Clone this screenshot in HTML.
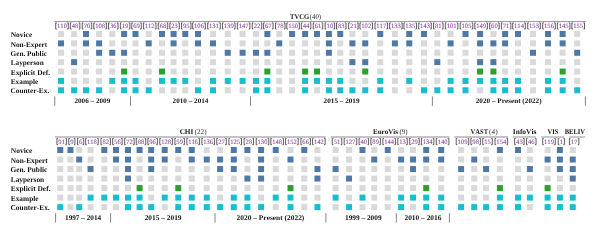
<!DOCTYPE html>
<html><head><meta charset="utf-8"><style>
html,body{margin:0;padding:0;background:#fff;width:600px;height:236px;overflow:hidden}
svg{display:block;will-change:transform}
text{font-family:"Liberation Serif",serif;text-rendering:geometricPrecision;font-kerning:none}
.rl,.tt,.yl{font-weight:700;fill:#141414}
.tc{font-weight:400;fill:#2a2a2a}
.ct{font-size:6.6px;fill:#8c44a4;stroke:#8c44a4;stroke-width:0.08}
.bk{fill:none;stroke:#2a2a2a;stroke-width:0.75}
.tl{stroke:#777;stroke-width:0.8}
.bl{stroke:#c4c4c4;stroke-width:1.8}
.tk{stroke:#666;stroke-width:0.8}
</style></head><body>
<svg width="600" height="236" viewBox="0 0 600 236">
<text x="10.76" y="37" class="rl" style="font-size:7.3px" textLength="21.43" lengthAdjust="spacingAndGlyphs">Novice</text>
<text x="10.76" y="47" class="rl" style="font-size:7.3px" textLength="36.47" lengthAdjust="spacingAndGlyphs">Non-Expert</text>
<text x="10.55" y="56" class="rl" style="font-size:7.3px" textLength="36.34" lengthAdjust="spacingAndGlyphs">Gen. Public</text>
<text x="10.78" y="65" class="rl" style="font-size:7.3px" textLength="32.98" lengthAdjust="spacingAndGlyphs">Layperson</text>
<text x="10.77" y="75" class="rl" style="font-size:7.3px" textLength="39.30" lengthAdjust="spacingAndGlyphs">Explicit Def.</text>
<text x="10.78" y="84" class="rl" style="font-size:7.3px" textLength="27.46" lengthAdjust="spacingAndGlyphs">Example</text>
<text x="10.54" y="93" class="rl" style="font-size:7.3px" textLength="38.68" lengthAdjust="spacingAndGlyphs">Counter-Ex.</text>
<path d="M56.85,22.90H55.70V29.00H56.85M67.15,22.90H68.30V29.00H67.15" class="bk"/>
<text x="62.00" y="28.00" class="ct" text-anchor="middle">110</text>
<rect x="58.00" y="31.00" width="6.0" height="6.0" fill="#d9d9d9"/>
<rect x="58.00" y="40.38" width="6.0" height="6.0" fill="#4e79a7"/>
<rect x="58.00" y="49.76" width="6.0" height="6.0" fill="#d9d9d9"/>
<rect x="58.00" y="59.14" width="6.0" height="6.0" fill="#d9d9d9"/>
<rect x="58.00" y="68.52" width="6.0" height="6.0" fill="#d9d9d9"/>
<rect x="58.00" y="77.90" width="6.0" height="6.0" fill="#17becf"/>
<rect x="58.00" y="87.28" width="6.0" height="6.0" fill="#17becf"/>
<path d="M71.50,22.90H70.35V29.00H71.50M78.70,22.90H79.85V29.00H78.70" class="bk"/>
<text x="75.10" y="28.00" class="ct" text-anchor="middle">48</text>
<rect x="71.10" y="31.00" width="6.0" height="6.0" fill="#d9d9d9"/>
<rect x="71.10" y="40.38" width="6.0" height="6.0" fill="#d9d9d9"/>
<rect x="71.10" y="49.76" width="6.0" height="6.0" fill="#d9d9d9"/>
<rect x="71.10" y="59.14" width="6.0" height="6.0" fill="#4e79a7"/>
<rect x="71.10" y="68.52" width="6.0" height="6.0" fill="#d9d9d9"/>
<rect x="71.10" y="77.90" width="6.0" height="6.0" fill="#d9d9d9"/>
<rect x="71.10" y="87.28" width="6.0" height="6.0" fill="#17becf"/>
<path d="M83.40,22.90H82.25V29.00H83.40M90.60,22.90H91.75V29.00H90.60" class="bk"/>
<text x="87.00" y="28.00" class="ct" text-anchor="middle">70</text>
<rect x="83.00" y="31.00" width="6.0" height="6.0" fill="#4e79a7"/>
<rect x="83.00" y="40.38" width="6.0" height="6.0" fill="#4e79a7"/>
<rect x="83.00" y="49.76" width="6.0" height="6.0" fill="#d9d9d9"/>
<rect x="83.00" y="59.14" width="6.0" height="6.0" fill="#d9d9d9"/>
<rect x="83.00" y="68.52" width="6.0" height="6.0" fill="#d9d9d9"/>
<rect x="83.00" y="77.90" width="6.0" height="6.0" fill="#d9d9d9"/>
<rect x="83.00" y="87.28" width="6.0" height="6.0" fill="#17becf"/>
<path d="M94.95,22.90H93.80V29.00H94.95M105.25,22.90H106.40V29.00H105.25" class="bk"/>
<text x="100.10" y="28.00" class="ct" text-anchor="middle">108</text>
<rect x="96.10" y="31.00" width="6.0" height="6.0" fill="#d9d9d9"/>
<rect x="96.10" y="40.38" width="6.0" height="6.0" fill="#4e79a7"/>
<rect x="96.10" y="49.76" width="6.0" height="6.0" fill="#4e79a7"/>
<rect x="96.10" y="59.14" width="6.0" height="6.0" fill="#d9d9d9"/>
<rect x="96.10" y="68.52" width="6.0" height="6.0" fill="#d9d9d9"/>
<rect x="96.10" y="77.90" width="6.0" height="6.0" fill="#d9d9d9"/>
<rect x="96.10" y="87.28" width="6.0" height="6.0" fill="#17becf"/>
<path d="M109.65,22.90H108.50V29.00H109.65M116.85,22.90H118.00V29.00H116.85" class="bk"/>
<text x="113.25" y="28.00" class="ct" text-anchor="middle">36</text>
<rect x="109.25" y="31.00" width="6.0" height="6.0" fill="#d9d9d9"/>
<rect x="109.25" y="40.38" width="6.0" height="6.0" fill="#d9d9d9"/>
<rect x="109.25" y="49.76" width="6.0" height="6.0" fill="#4e79a7"/>
<rect x="109.25" y="59.14" width="6.0" height="6.0" fill="#d9d9d9"/>
<rect x="109.25" y="68.52" width="6.0" height="6.0" fill="#d9d9d9"/>
<rect x="109.25" y="77.90" width="6.0" height="6.0" fill="#17becf"/>
<rect x="109.25" y="87.28" width="6.0" height="6.0" fill="#d9d9d9"/>
<path d="M121.50,22.90H120.35V29.00H121.50M128.70,22.90H129.85V29.00H128.70" class="bk"/>
<text x="125.10" y="28.00" class="ct" text-anchor="middle">19</text>
<rect x="121.10" y="31.00" width="6.0" height="6.0" fill="#4e79a7"/>
<rect x="121.10" y="40.38" width="6.0" height="6.0" fill="#d9d9d9"/>
<rect x="121.10" y="49.76" width="6.0" height="6.0" fill="#4e79a7"/>
<rect x="121.10" y="59.14" width="6.0" height="6.0" fill="#d9d9d9"/>
<rect x="121.10" y="68.52" width="6.0" height="6.0" fill="#2ca02c"/>
<rect x="121.10" y="77.90" width="6.0" height="6.0" fill="#17becf"/>
<rect x="121.10" y="87.28" width="6.0" height="6.0" fill="#17becf"/>
<path d="M132.90,22.90H131.75V29.00H132.90M140.10,22.90H141.25V29.00H140.10" class="bk"/>
<text x="136.50" y="28.00" class="ct" text-anchor="middle">69</text>
<rect x="132.50" y="31.00" width="6.0" height="6.0" fill="#4e79a7"/>
<rect x="132.50" y="40.38" width="6.0" height="6.0" fill="#d9d9d9"/>
<rect x="132.50" y="49.76" width="6.0" height="6.0" fill="#d9d9d9"/>
<rect x="132.50" y="59.14" width="6.0" height="6.0" fill="#d9d9d9"/>
<rect x="132.50" y="68.52" width="6.0" height="6.0" fill="#d9d9d9"/>
<rect x="132.50" y="77.90" width="6.0" height="6.0" fill="#17becf"/>
<rect x="132.50" y="87.28" width="6.0" height="6.0" fill="#17becf"/>
<path d="M144.55,22.90H143.40V29.00H144.55M154.85,22.90H156.00V29.00H154.85" class="bk"/>
<text x="149.70" y="28.00" class="ct" text-anchor="middle">112</text>
<rect x="145.70" y="31.00" width="6.0" height="6.0" fill="#d9d9d9"/>
<rect x="145.70" y="40.38" width="6.0" height="6.0" fill="#4e79a7"/>
<rect x="145.70" y="49.76" width="6.0" height="6.0" fill="#d9d9d9"/>
<rect x="145.70" y="59.14" width="6.0" height="6.0" fill="#d9d9d9"/>
<rect x="145.70" y="68.52" width="6.0" height="6.0" fill="#d9d9d9"/>
<rect x="145.70" y="77.90" width="6.0" height="6.0" fill="#d9d9d9"/>
<rect x="145.70" y="87.28" width="6.0" height="6.0" fill="#17becf"/>
<path d="M159.40,22.90H158.25V29.00H159.40M166.60,22.90H167.75V29.00H166.60" class="bk"/>
<text x="163.00" y="28.00" class="ct" text-anchor="middle">68</text>
<rect x="159.00" y="31.00" width="6.0" height="6.0" fill="#4e79a7"/>
<rect x="159.00" y="40.38" width="6.0" height="6.0" fill="#d9d9d9"/>
<rect x="159.00" y="49.76" width="6.0" height="6.0" fill="#d9d9d9"/>
<rect x="159.00" y="59.14" width="6.0" height="6.0" fill="#d9d9d9"/>
<rect x="159.00" y="68.52" width="6.0" height="6.0" fill="#2ca02c"/>
<rect x="159.00" y="77.90" width="6.0" height="6.0" fill="#17becf"/>
<rect x="159.00" y="87.28" width="6.0" height="6.0" fill="#d9d9d9"/>
<path d="M171.00,22.90H169.85V29.00H171.00M178.20,22.90H179.35V29.00H178.20" class="bk"/>
<text x="174.60" y="28.00" class="ct" text-anchor="middle">23</text>
<rect x="170.60" y="31.00" width="6.0" height="6.0" fill="#4e79a7"/>
<rect x="170.60" y="40.38" width="6.0" height="6.0" fill="#4e79a7"/>
<rect x="170.60" y="49.76" width="6.0" height="6.0" fill="#d9d9d9"/>
<rect x="170.60" y="59.14" width="6.0" height="6.0" fill="#d9d9d9"/>
<rect x="170.60" y="68.52" width="6.0" height="6.0" fill="#d9d9d9"/>
<rect x="170.60" y="77.90" width="6.0" height="6.0" fill="#17becf"/>
<rect x="170.60" y="87.28" width="6.0" height="6.0" fill="#d9d9d9"/>
<path d="M182.65,22.90H181.50V29.00H182.65M189.85,22.90H191.00V29.00H189.85" class="bk"/>
<text x="186.25" y="28.00" class="ct" text-anchor="middle">95</text>
<rect x="182.25" y="31.00" width="6.0" height="6.0" fill="#4e79a7"/>
<rect x="182.25" y="40.38" width="6.0" height="6.0" fill="#d9d9d9"/>
<rect x="182.25" y="49.76" width="6.0" height="6.0" fill="#d9d9d9"/>
<rect x="182.25" y="59.14" width="6.0" height="6.0" fill="#d9d9d9"/>
<rect x="182.25" y="68.52" width="6.0" height="6.0" fill="#d9d9d9"/>
<rect x="182.25" y="77.90" width="6.0" height="6.0" fill="#17becf"/>
<rect x="182.25" y="87.28" width="6.0" height="6.0" fill="#d9d9d9"/>
<path d="M193.85,22.90H192.70V29.00H193.85M204.15,22.90H205.30V29.00H204.15" class="bk"/>
<text x="199.00" y="28.00" class="ct" text-anchor="middle">106</text>
<rect x="195.00" y="31.00" width="6.0" height="6.0" fill="#4e79a7"/>
<rect x="195.00" y="40.38" width="6.0" height="6.0" fill="#4e79a7"/>
<rect x="195.00" y="49.76" width="6.0" height="6.0" fill="#d9d9d9"/>
<rect x="195.00" y="59.14" width="6.0" height="6.0" fill="#d9d9d9"/>
<rect x="195.00" y="68.52" width="6.0" height="6.0" fill="#d9d9d9"/>
<rect x="195.00" y="77.90" width="6.0" height="6.0" fill="#d9d9d9"/>
<rect x="195.00" y="87.28" width="6.0" height="6.0" fill="#17becf"/>
<path d="M208.85,22.90H207.70V29.00H208.85M219.15,22.90H220.30V29.00H219.15" class="bk"/>
<text x="214.00" y="28.00" class="ct" text-anchor="middle">131</text>
<rect x="210.00" y="31.00" width="6.0" height="6.0" fill="#d9d9d9"/>
<rect x="210.00" y="40.38" width="6.0" height="6.0" fill="#4e79a7"/>
<rect x="210.00" y="49.76" width="6.0" height="6.0" fill="#d9d9d9"/>
<rect x="210.00" y="59.14" width="6.0" height="6.0" fill="#d9d9d9"/>
<rect x="210.00" y="68.52" width="6.0" height="6.0" fill="#d9d9d9"/>
<rect x="210.00" y="77.90" width="6.0" height="6.0" fill="#17becf"/>
<rect x="210.00" y="87.28" width="6.0" height="6.0" fill="#17becf"/>
<path d="M223.60,22.90H222.45V29.00H223.60M233.90,22.90H235.05V29.00H233.90" class="bk"/>
<text x="228.75" y="28.00" class="ct" text-anchor="middle">139</text>
<rect x="224.75" y="31.00" width="6.0" height="6.0" fill="#d9d9d9"/>
<rect x="224.75" y="40.38" width="6.0" height="6.0" fill="#d9d9d9"/>
<rect x="224.75" y="49.76" width="6.0" height="6.0" fill="#4e79a7"/>
<rect x="224.75" y="59.14" width="6.0" height="6.0" fill="#d9d9d9"/>
<rect x="224.75" y="68.52" width="6.0" height="6.0" fill="#d9d9d9"/>
<rect x="224.75" y="77.90" width="6.0" height="6.0" fill="#17becf"/>
<rect x="224.75" y="87.28" width="6.0" height="6.0" fill="#d9d9d9"/>
<path d="M238.45,22.90H237.30V29.00H238.45M248.75,22.90H249.90V29.00H248.75" class="bk"/>
<text x="243.60" y="28.00" class="ct" text-anchor="middle">147</text>
<rect x="239.60" y="31.00" width="6.0" height="6.0" fill="#d9d9d9"/>
<rect x="239.60" y="40.38" width="6.0" height="6.0" fill="#d9d9d9"/>
<rect x="239.60" y="49.76" width="6.0" height="6.0" fill="#4e79a7"/>
<rect x="239.60" y="59.14" width="6.0" height="6.0" fill="#d9d9d9"/>
<rect x="239.60" y="68.52" width="6.0" height="6.0" fill="#d9d9d9"/>
<rect x="239.60" y="77.90" width="6.0" height="6.0" fill="#17becf"/>
<rect x="239.60" y="87.28" width="6.0" height="6.0" fill="#d9d9d9"/>
<path d="M253.40,22.90H252.25V29.00H253.40M260.60,22.90H261.75V29.00H260.60" class="bk"/>
<text x="257.00" y="28.00" class="ct" text-anchor="middle">22</text>
<rect x="253.00" y="31.00" width="6.0" height="6.0" fill="#d9d9d9"/>
<rect x="253.00" y="40.38" width="6.0" height="6.0" fill="#d9d9d9"/>
<rect x="253.00" y="49.76" width="6.0" height="6.0" fill="#4e79a7"/>
<rect x="253.00" y="59.14" width="6.0" height="6.0" fill="#d9d9d9"/>
<rect x="253.00" y="68.52" width="6.0" height="6.0" fill="#d9d9d9"/>
<rect x="253.00" y="77.90" width="6.0" height="6.0" fill="#17becf"/>
<rect x="253.00" y="87.28" width="6.0" height="6.0" fill="#17becf"/>
<path d="M264.75,22.90H263.60V29.00H264.75M271.95,22.90H273.10V29.00H271.95" class="bk"/>
<text x="268.35" y="28.00" class="ct" text-anchor="middle">67</text>
<rect x="264.35" y="31.00" width="6.0" height="6.0" fill="#4e79a7"/>
<rect x="264.35" y="40.38" width="6.0" height="6.0" fill="#d9d9d9"/>
<rect x="264.35" y="49.76" width="6.0" height="6.0" fill="#4e79a7"/>
<rect x="264.35" y="59.14" width="6.0" height="6.0" fill="#d9d9d9"/>
<rect x="264.35" y="68.52" width="6.0" height="6.0" fill="#2ca02c"/>
<rect x="264.35" y="77.90" width="6.0" height="6.0" fill="#17becf"/>
<rect x="264.35" y="87.28" width="6.0" height="6.0" fill="#17becf"/>
<path d="M276.65,22.90H275.50V29.00H276.65M283.85,22.90H285.00V29.00H283.85" class="bk"/>
<text x="280.25" y="28.00" class="ct" text-anchor="middle">78</text>
<rect x="276.25" y="31.00" width="6.0" height="6.0" fill="#d9d9d9"/>
<rect x="276.25" y="40.38" width="6.0" height="6.0" fill="#4e79a7"/>
<rect x="276.25" y="49.76" width="6.0" height="6.0" fill="#d9d9d9"/>
<rect x="276.25" y="59.14" width="6.0" height="6.0" fill="#d9d9d9"/>
<rect x="276.25" y="68.52" width="6.0" height="6.0" fill="#d9d9d9"/>
<rect x="276.25" y="77.90" width="6.0" height="6.0" fill="#d9d9d9"/>
<rect x="276.25" y="87.28" width="6.0" height="6.0" fill="#d9d9d9"/>
<path d="M287.95,22.90H286.80V29.00H287.95M298.25,22.90H299.40V29.00H298.25" class="bk"/>
<text x="293.10" y="28.00" class="ct" text-anchor="middle">150</text>
<rect x="289.10" y="31.00" width="6.0" height="6.0" fill="#4e79a7"/>
<rect x="289.10" y="40.38" width="6.0" height="6.0" fill="#d9d9d9"/>
<rect x="289.10" y="49.76" width="6.0" height="6.0" fill="#d9d9d9"/>
<rect x="289.10" y="59.14" width="6.0" height="6.0" fill="#d9d9d9"/>
<rect x="289.10" y="68.52" width="6.0" height="6.0" fill="#d9d9d9"/>
<rect x="289.10" y="77.90" width="6.0" height="6.0" fill="#d9d9d9"/>
<rect x="289.10" y="87.28" width="6.0" height="6.0" fill="#d9d9d9"/>
<path d="M302.50,22.90H301.35V29.00H302.50M309.70,22.90H310.85V29.00H309.70" class="bk"/>
<text x="306.10" y="28.00" class="ct" text-anchor="middle">44</text>
<rect x="302.10" y="31.00" width="6.0" height="6.0" fill="#4e79a7"/>
<rect x="302.10" y="40.38" width="6.0" height="6.0" fill="#d9d9d9"/>
<rect x="302.10" y="49.76" width="6.0" height="6.0" fill="#d9d9d9"/>
<rect x="302.10" y="59.14" width="6.0" height="6.0" fill="#d9d9d9"/>
<rect x="302.10" y="68.52" width="6.0" height="6.0" fill="#2ca02c"/>
<rect x="302.10" y="77.90" width="6.0" height="6.0" fill="#17becf"/>
<rect x="302.10" y="87.28" width="6.0" height="6.0" fill="#17becf"/>
<path d="M314.40,22.90H313.25V29.00H314.40M321.60,22.90H322.75V29.00H321.60" class="bk"/>
<text x="318.00" y="28.00" class="ct" text-anchor="middle">61</text>
<rect x="314.00" y="31.00" width="6.0" height="6.0" fill="#4e79a7"/>
<rect x="314.00" y="40.38" width="6.0" height="6.0" fill="#d9d9d9"/>
<rect x="314.00" y="49.76" width="6.0" height="6.0" fill="#d9d9d9"/>
<rect x="314.00" y="59.14" width="6.0" height="6.0" fill="#d9d9d9"/>
<rect x="314.00" y="68.52" width="6.0" height="6.0" fill="#2ca02c"/>
<rect x="314.00" y="77.90" width="6.0" height="6.0" fill="#17becf"/>
<rect x="314.00" y="87.28" width="6.0" height="6.0" fill="#d9d9d9"/>
<path d="M326.30,22.90H325.15V29.00H326.30M333.50,22.90H334.65V29.00H333.50" class="bk"/>
<text x="329.90" y="28.00" class="ct" text-anchor="middle">10</text>
<rect x="325.90" y="31.00" width="6.0" height="6.0" fill="#4e79a7"/>
<rect x="325.90" y="40.38" width="6.0" height="6.0" fill="#4e79a7"/>
<rect x="325.90" y="49.76" width="6.0" height="6.0" fill="#4e79a7"/>
<rect x="325.90" y="59.14" width="6.0" height="6.0" fill="#d9d9d9"/>
<rect x="325.90" y="68.52" width="6.0" height="6.0" fill="#d9d9d9"/>
<rect x="325.90" y="77.90" width="6.0" height="6.0" fill="#17becf"/>
<rect x="325.90" y="87.28" width="6.0" height="6.0" fill="#17becf"/>
<path d="M337.65,22.90H336.50V29.00H337.65M344.85,22.90H346.00V29.00H344.85" class="bk"/>
<text x="341.25" y="28.00" class="ct" text-anchor="middle">83</text>
<rect x="337.25" y="31.00" width="6.0" height="6.0" fill="#4e79a7"/>
<rect x="337.25" y="40.38" width="6.0" height="6.0" fill="#d9d9d9"/>
<rect x="337.25" y="49.76" width="6.0" height="6.0" fill="#d9d9d9"/>
<rect x="337.25" y="59.14" width="6.0" height="6.0" fill="#d9d9d9"/>
<rect x="337.25" y="68.52" width="6.0" height="6.0" fill="#d9d9d9"/>
<rect x="337.25" y="77.90" width="6.0" height="6.0" fill="#17becf"/>
<rect x="337.25" y="87.28" width="6.0" height="6.0" fill="#17becf"/>
<path d="M349.80,22.90H348.65V29.00H349.80M357.00,22.90H358.15V29.00H357.00" class="bk"/>
<text x="353.40" y="28.00" class="ct" text-anchor="middle">21</text>
<rect x="349.40" y="31.00" width="6.0" height="6.0" fill="#d9d9d9"/>
<rect x="349.40" y="40.38" width="6.0" height="6.0" fill="#4e79a7"/>
<rect x="349.40" y="49.76" width="6.0" height="6.0" fill="#d9d9d9"/>
<rect x="349.40" y="59.14" width="6.0" height="6.0" fill="#4e79a7"/>
<rect x="349.40" y="68.52" width="6.0" height="6.0" fill="#d9d9d9"/>
<rect x="349.40" y="77.90" width="6.0" height="6.0" fill="#d9d9d9"/>
<rect x="349.40" y="87.28" width="6.0" height="6.0" fill="#17becf"/>
<path d="M361.10,22.90H359.95V29.00H361.10M371.40,22.90H372.55V29.00H371.40" class="bk"/>
<text x="366.25" y="28.00" class="ct" text-anchor="middle">102</text>
<rect x="362.25" y="31.00" width="6.0" height="6.0" fill="#d9d9d9"/>
<rect x="362.25" y="40.38" width="6.0" height="6.0" fill="#4e79a7"/>
<rect x="362.25" y="49.76" width="6.0" height="6.0" fill="#d9d9d9"/>
<rect x="362.25" y="59.14" width="6.0" height="6.0" fill="#4e79a7"/>
<rect x="362.25" y="68.52" width="6.0" height="6.0" fill="#2ca02c"/>
<rect x="362.25" y="77.90" width="6.0" height="6.0" fill="#d9d9d9"/>
<rect x="362.25" y="87.28" width="6.0" height="6.0" fill="#17becf"/>
<path d="M376.10,22.90H374.95V29.00H376.10M386.40,22.90H387.55V29.00H386.40" class="bk"/>
<text x="381.25" y="28.00" class="ct" text-anchor="middle">117</text>
<rect x="377.25" y="31.00" width="6.0" height="6.0" fill="#4e79a7"/>
<rect x="377.25" y="40.38" width="6.0" height="6.0" fill="#d9d9d9"/>
<rect x="377.25" y="49.76" width="6.0" height="6.0" fill="#d9d9d9"/>
<rect x="377.25" y="59.14" width="6.0" height="6.0" fill="#d9d9d9"/>
<rect x="377.25" y="68.52" width="6.0" height="6.0" fill="#d9d9d9"/>
<rect x="377.25" y="77.90" width="6.0" height="6.0" fill="#17becf"/>
<rect x="377.25" y="87.28" width="6.0" height="6.0" fill="#17becf"/>
<path d="M390.75,22.90H389.60V29.00H390.75M401.05,22.90H402.20V29.00H401.05" class="bk"/>
<text x="395.90" y="28.00" class="ct" text-anchor="middle">133</text>
<rect x="391.90" y="31.00" width="6.0" height="6.0" fill="#d9d9d9"/>
<rect x="391.90" y="40.38" width="6.0" height="6.0" fill="#4e79a7"/>
<rect x="391.90" y="49.76" width="6.0" height="6.0" fill="#d9d9d9"/>
<rect x="391.90" y="59.14" width="6.0" height="6.0" fill="#d9d9d9"/>
<rect x="391.90" y="68.52" width="6.0" height="6.0" fill="#d9d9d9"/>
<rect x="391.90" y="77.90" width="6.0" height="6.0" fill="#d9d9d9"/>
<rect x="391.90" y="87.28" width="6.0" height="6.0" fill="#d9d9d9"/>
<path d="M405.10,22.90H403.95V29.00H405.10M415.40,22.90H416.55V29.00H415.40" class="bk"/>
<text x="410.25" y="28.00" class="ct" text-anchor="middle">135</text>
<rect x="406.25" y="31.00" width="6.0" height="6.0" fill="#4e79a7"/>
<rect x="406.25" y="40.38" width="6.0" height="6.0" fill="#4e79a7"/>
<rect x="406.25" y="49.76" width="6.0" height="6.0" fill="#d9d9d9"/>
<rect x="406.25" y="59.14" width="6.0" height="6.0" fill="#d9d9d9"/>
<rect x="406.25" y="68.52" width="6.0" height="6.0" fill="#d9d9d9"/>
<rect x="406.25" y="77.90" width="6.0" height="6.0" fill="#17becf"/>
<rect x="406.25" y="87.28" width="6.0" height="6.0" fill="#d9d9d9"/>
<path d="M419.85,22.90H418.70V29.00H419.85M430.15,22.90H431.30V29.00H430.15" class="bk"/>
<text x="425.00" y="28.00" class="ct" text-anchor="middle">143</text>
<rect x="421.00" y="31.00" width="6.0" height="6.0" fill="#4e79a7"/>
<rect x="421.00" y="40.38" width="6.0" height="6.0" fill="#d9d9d9"/>
<rect x="421.00" y="49.76" width="6.0" height="6.0" fill="#d9d9d9"/>
<rect x="421.00" y="59.14" width="6.0" height="6.0" fill="#d9d9d9"/>
<rect x="421.00" y="68.52" width="6.0" height="6.0" fill="#d9d9d9"/>
<rect x="421.00" y="77.90" width="6.0" height="6.0" fill="#d9d9d9"/>
<rect x="421.00" y="87.28" width="6.0" height="6.0" fill="#17becf"/>
<path d="M434.70,22.90H433.55V29.00H434.70M441.90,22.90H443.05V29.00H441.90" class="bk"/>
<text x="438.30" y="28.00" class="ct" text-anchor="middle">81</text>
<rect x="434.30" y="31.00" width="6.0" height="6.0" fill="#d9d9d9"/>
<rect x="434.30" y="40.38" width="6.0" height="6.0" fill="#d9d9d9"/>
<rect x="434.30" y="49.76" width="6.0" height="6.0" fill="#d9d9d9"/>
<rect x="434.30" y="59.14" width="6.0" height="6.0" fill="#4e79a7"/>
<rect x="434.30" y="68.52" width="6.0" height="6.0" fill="#d9d9d9"/>
<rect x="434.30" y="77.90" width="6.0" height="6.0" fill="#d9d9d9"/>
<rect x="434.30" y="87.28" width="6.0" height="6.0" fill="#17becf"/>
<path d="M446.45,22.90H445.30V29.00H446.45M456.75,22.90H457.90V29.00H456.75" class="bk"/>
<text x="451.60" y="28.00" class="ct" text-anchor="middle">101</text>
<rect x="447.60" y="31.00" width="6.0" height="6.0" fill="#d9d9d9"/>
<rect x="447.60" y="40.38" width="6.0" height="6.0" fill="#4e79a7"/>
<rect x="447.60" y="49.76" width="6.0" height="6.0" fill="#d9d9d9"/>
<rect x="447.60" y="59.14" width="6.0" height="6.0" fill="#d9d9d9"/>
<rect x="447.60" y="68.52" width="6.0" height="6.0" fill="#d9d9d9"/>
<rect x="447.60" y="77.90" width="6.0" height="6.0" fill="#17becf"/>
<rect x="447.60" y="87.28" width="6.0" height="6.0" fill="#17becf"/>
<path d="M461.35,22.90H460.20V29.00H461.35M471.65,22.90H472.80V29.00H471.65" class="bk"/>
<text x="466.50" y="28.00" class="ct" text-anchor="middle">105</text>
<rect x="462.50" y="31.00" width="6.0" height="6.0" fill="#4e79a7"/>
<rect x="462.50" y="40.38" width="6.0" height="6.0" fill="#d9d9d9"/>
<rect x="462.50" y="49.76" width="6.0" height="6.0" fill="#d9d9d9"/>
<rect x="462.50" y="59.14" width="6.0" height="6.0" fill="#d9d9d9"/>
<rect x="462.50" y="68.52" width="6.0" height="6.0" fill="#d9d9d9"/>
<rect x="462.50" y="77.90" width="6.0" height="6.0" fill="#17becf"/>
<rect x="462.50" y="87.28" width="6.0" height="6.0" fill="#17becf"/>
<path d="M475.95,22.90H474.80V29.00H475.95M486.25,22.90H487.40V29.00H486.25" class="bk"/>
<text x="481.10" y="28.00" class="ct" text-anchor="middle">149</text>
<rect x="477.10" y="31.00" width="6.0" height="6.0" fill="#4e79a7"/>
<rect x="477.10" y="40.38" width="6.0" height="6.0" fill="#4e79a7"/>
<rect x="477.10" y="49.76" width="6.0" height="6.0" fill="#d9d9d9"/>
<rect x="477.10" y="59.14" width="6.0" height="6.0" fill="#4e79a7"/>
<rect x="477.10" y="68.52" width="6.0" height="6.0" fill="#2ca02c"/>
<rect x="477.10" y="77.90" width="6.0" height="6.0" fill="#17becf"/>
<rect x="477.10" y="87.28" width="6.0" height="6.0" fill="#d9d9d9"/>
<path d="M490.80,22.90H489.65V29.00H490.80M498.00,22.90H499.15V29.00H498.00" class="bk"/>
<text x="494.40" y="28.00" class="ct" text-anchor="middle">60</text>
<rect x="490.40" y="31.00" width="6.0" height="6.0" fill="#d9d9d9"/>
<rect x="490.40" y="40.38" width="6.0" height="6.0" fill="#4e79a7"/>
<rect x="490.40" y="49.76" width="6.0" height="6.0" fill="#d9d9d9"/>
<rect x="490.40" y="59.14" width="6.0" height="6.0" fill="#4e79a7"/>
<rect x="490.40" y="68.52" width="6.0" height="6.0" fill="#2ca02c"/>
<rect x="490.40" y="77.90" width="6.0" height="6.0" fill="#17becf"/>
<rect x="490.40" y="87.28" width="6.0" height="6.0" fill="#17becf"/>
<path d="M502.50,22.90H501.35V29.00H502.50M509.70,22.90H510.85V29.00H509.70" class="bk"/>
<text x="506.10" y="28.00" class="ct" text-anchor="middle">71</text>
<rect x="502.10" y="31.00" width="6.0" height="6.0" fill="#4e79a7"/>
<rect x="502.10" y="40.38" width="6.0" height="6.0" fill="#4e79a7"/>
<rect x="502.10" y="49.76" width="6.0" height="6.0" fill="#d9d9d9"/>
<rect x="502.10" y="59.14" width="6.0" height="6.0" fill="#d9d9d9"/>
<rect x="502.10" y="68.52" width="6.0" height="6.0" fill="#d9d9d9"/>
<rect x="502.10" y="77.90" width="6.0" height="6.0" fill="#17becf"/>
<rect x="502.10" y="87.28" width="6.0" height="6.0" fill="#17becf"/>
<path d="M513.85,22.90H512.70V29.00H513.85M524.15,22.90H525.30V29.00H524.15" class="bk"/>
<text x="519.00" y="28.00" class="ct" text-anchor="middle">114</text>
<rect x="515.00" y="31.00" width="6.0" height="6.0" fill="#4e79a7"/>
<rect x="515.00" y="40.38" width="6.0" height="6.0" fill="#d9d9d9"/>
<rect x="515.00" y="49.76" width="6.0" height="6.0" fill="#d9d9d9"/>
<rect x="515.00" y="59.14" width="6.0" height="6.0" fill="#d9d9d9"/>
<rect x="515.00" y="68.52" width="6.0" height="6.0" fill="#d9d9d9"/>
<rect x="515.00" y="77.90" width="6.0" height="6.0" fill="#17becf"/>
<rect x="515.00" y="87.28" width="6.0" height="6.0" fill="#17becf"/>
<path d="M528.85,22.90H527.70V29.00H528.85M539.15,22.90H540.30V29.00H539.15" class="bk"/>
<text x="534.00" y="28.00" class="ct" text-anchor="middle">153</text>
<rect x="530.00" y="31.00" width="6.0" height="6.0" fill="#d9d9d9"/>
<rect x="530.00" y="40.38" width="6.0" height="6.0" fill="#d9d9d9"/>
<rect x="530.00" y="49.76" width="6.0" height="6.0" fill="#4e79a7"/>
<rect x="530.00" y="59.14" width="6.0" height="6.0" fill="#d9d9d9"/>
<rect x="530.00" y="68.52" width="6.0" height="6.0" fill="#d9d9d9"/>
<rect x="530.00" y="77.90" width="6.0" height="6.0" fill="#d9d9d9"/>
<rect x="530.00" y="87.28" width="6.0" height="6.0" fill="#d9d9d9"/>
<path d="M543.85,22.90H542.70V29.00H543.85M554.15,22.90H555.30V29.00H554.15" class="bk"/>
<text x="549.00" y="28.00" class="ct" text-anchor="middle">156</text>
<rect x="545.00" y="31.00" width="6.0" height="6.0" fill="#4e79a7"/>
<rect x="545.00" y="40.38" width="6.0" height="6.0" fill="#4e79a7"/>
<rect x="545.00" y="49.76" width="6.0" height="6.0" fill="#d9d9d9"/>
<rect x="545.00" y="59.14" width="6.0" height="6.0" fill="#d9d9d9"/>
<rect x="545.00" y="68.52" width="6.0" height="6.0" fill="#d9d9d9"/>
<rect x="545.00" y="77.90" width="6.0" height="6.0" fill="#17becf"/>
<rect x="545.00" y="87.28" width="6.0" height="6.0" fill="#17becf"/>
<path d="M558.50,22.90H557.35V29.00H558.50M568.80,22.90H569.95V29.00H568.80" class="bk"/>
<text x="563.65" y="28.00" class="ct" text-anchor="middle">145</text>
<rect x="559.65" y="31.00" width="6.0" height="6.0" fill="#4e79a7"/>
<rect x="559.65" y="40.38" width="6.0" height="6.0" fill="#4e79a7"/>
<rect x="559.65" y="49.76" width="6.0" height="6.0" fill="#d9d9d9"/>
<rect x="559.65" y="59.14" width="6.0" height="6.0" fill="#d9d9d9"/>
<rect x="559.65" y="68.52" width="6.0" height="6.0" fill="#2ca02c"/>
<rect x="559.65" y="77.90" width="6.0" height="6.0" fill="#17becf"/>
<rect x="559.65" y="87.28" width="6.0" height="6.0" fill="#17becf"/>
<path d="M573.05,22.90H571.90V29.00H573.05M583.35,22.90H584.50V29.00H583.35" class="bk"/>
<text x="578.20" y="28.00" class="ct" text-anchor="middle">155</text>
<rect x="574.20" y="31.00" width="6.0" height="6.0" fill="#d9d9d9"/>
<rect x="574.20" y="40.38" width="6.0" height="6.0" fill="#d9d9d9"/>
<rect x="574.20" y="49.76" width="6.0" height="6.0" fill="#4e79a7"/>
<rect x="574.20" y="59.14" width="6.0" height="6.0" fill="#d9d9d9"/>
<rect x="574.20" y="68.52" width="6.0" height="6.0" fill="#d9d9d9"/>
<rect x="574.20" y="77.90" width="6.0" height="6.0" fill="#d9d9d9"/>
<rect x="574.20" y="87.28" width="6.0" height="6.0" fill="#17becf"/>
<text x="10.76" y="153" class="rl" style="font-size:7.4px" textLength="21.69" lengthAdjust="spacingAndGlyphs">Novice</text>
<text x="10.76" y="163" class="rl" style="font-size:7.4px" textLength="36.91" lengthAdjust="spacingAndGlyphs">Non-Expert</text>
<text x="10.54" y="172" class="rl" style="font-size:7.4px" textLength="36.77" lengthAdjust="spacingAndGlyphs">Gen. Public</text>
<text x="10.77" y="182" class="rl" style="font-size:7.4px" textLength="33.38" lengthAdjust="spacingAndGlyphs">Layperson</text>
<text x="10.77" y="191" class="rl" style="font-size:7.4px" textLength="39.77" lengthAdjust="spacingAndGlyphs">Explicit Def.</text>
<text x="10.77" y="201" class="rl" style="font-size:7.4px" textLength="27.79" lengthAdjust="spacingAndGlyphs">Example</text>
<text x="10.54" y="210" class="rl" style="font-size:7.4px" textLength="39.14" lengthAdjust="spacingAndGlyphs">Counter-Ex.</text>
<path d="M58.05,138.30H56.90V144.70H58.05M65.25,138.30H66.40V144.70H65.25" class="bk"/>
<text x="61.65" y="144.00" class="ct" text-anchor="middle">91</text>
<rect x="57.25" y="147.00" width="6.0" height="6.0" fill="#4e79a7"/>
<rect x="57.25" y="156.52" width="6.0" height="6.0" fill="#d9d9d9"/>
<rect x="57.25" y="166.04" width="6.0" height="6.0" fill="#d9d9d9"/>
<rect x="57.25" y="175.56" width="6.0" height="6.0" fill="#d9d9d9"/>
<rect x="57.25" y="185.08" width="6.0" height="6.0" fill="#d9d9d9"/>
<rect x="57.25" y="194.60" width="6.0" height="6.0" fill="#d9d9d9"/>
<rect x="57.25" y="204.12" width="6.0" height="6.0" fill="#17becf"/>
<path d="M69.90,138.30H68.75V144.70H69.90M73.80,138.30H74.95V144.70H73.80" class="bk"/>
<text x="71.85" y="144.00" class="ct" text-anchor="middle">9</text>
<rect x="67.45" y="147.00" width="6.0" height="6.0" fill="#4e79a7"/>
<rect x="67.45" y="156.52" width="6.0" height="6.0" fill="#d9d9d9"/>
<rect x="67.45" y="166.04" width="6.0" height="6.0" fill="#d9d9d9"/>
<rect x="67.45" y="175.56" width="6.0" height="6.0" fill="#d9d9d9"/>
<rect x="67.45" y="185.08" width="6.0" height="6.0" fill="#d9d9d9"/>
<rect x="67.45" y="194.60" width="6.0" height="6.0" fill="#d9d9d9"/>
<rect x="67.45" y="204.12" width="6.0" height="6.0" fill="#d9d9d9"/>
<path d="M78.65,138.30H77.50V144.70H78.65M82.55,138.30H83.70V144.70H82.55" class="bk"/>
<text x="80.60" y="144.00" class="ct" text-anchor="middle">6</text>
<rect x="76.20" y="147.00" width="6.0" height="6.0" fill="#d9d9d9"/>
<rect x="76.20" y="156.52" width="6.0" height="6.0" fill="#4e79a7"/>
<rect x="76.20" y="166.04" width="6.0" height="6.0" fill="#d9d9d9"/>
<rect x="76.20" y="175.56" width="6.0" height="6.0" fill="#d9d9d9"/>
<rect x="76.20" y="185.08" width="6.0" height="6.0" fill="#d9d9d9"/>
<rect x="76.20" y="194.60" width="6.0" height="6.0" fill="#d9d9d9"/>
<rect x="76.20" y="204.12" width="6.0" height="6.0" fill="#17becf"/>
<path d="M86.80,138.30H85.65V144.70H86.80M97.10,138.30H98.25V144.70H97.10" class="bk"/>
<text x="91.95" y="144.00" class="ct" text-anchor="middle">118</text>
<rect x="87.55" y="147.00" width="6.0" height="6.0" fill="#d9d9d9"/>
<rect x="87.55" y="156.52" width="6.0" height="6.0" fill="#d9d9d9"/>
<rect x="87.55" y="166.04" width="6.0" height="6.0" fill="#4e79a7"/>
<rect x="87.55" y="175.56" width="6.0" height="6.0" fill="#d9d9d9"/>
<rect x="87.55" y="185.08" width="6.0" height="6.0" fill="#d9d9d9"/>
<rect x="87.55" y="194.60" width="6.0" height="6.0" fill="#17becf"/>
<rect x="87.55" y="204.12" width="6.0" height="6.0" fill="#d9d9d9"/>
<path d="M102.10,138.30H100.95V144.70H102.10M109.30,138.30H110.45V144.70H109.30" class="bk"/>
<text x="105.70" y="144.00" class="ct" text-anchor="middle">82</text>
<rect x="101.30" y="147.00" width="6.0" height="6.0" fill="#4e79a7"/>
<rect x="101.30" y="156.52" width="6.0" height="6.0" fill="#d9d9d9"/>
<rect x="101.30" y="166.04" width="6.0" height="6.0" fill="#d9d9d9"/>
<rect x="101.30" y="175.56" width="6.0" height="6.0" fill="#d9d9d9"/>
<rect x="101.30" y="185.08" width="6.0" height="6.0" fill="#d9d9d9"/>
<rect x="101.30" y="194.60" width="6.0" height="6.0" fill="#17becf"/>
<rect x="101.30" y="204.12" width="6.0" height="6.0" fill="#d9d9d9"/>
<path d="M113.80,138.30H112.65V144.70H113.80M121.00,138.30H122.15V144.70H121.00" class="bk"/>
<text x="117.40" y="144.00" class="ct" text-anchor="middle">56</text>
<rect x="113.00" y="147.00" width="6.0" height="6.0" fill="#4e79a7"/>
<rect x="113.00" y="156.52" width="6.0" height="6.0" fill="#4e79a7"/>
<rect x="113.00" y="166.04" width="6.0" height="6.0" fill="#d9d9d9"/>
<rect x="113.00" y="175.56" width="6.0" height="6.0" fill="#d9d9d9"/>
<rect x="113.00" y="185.08" width="6.0" height="6.0" fill="#d9d9d9"/>
<rect x="113.00" y="194.60" width="6.0" height="6.0" fill="#17becf"/>
<rect x="113.00" y="204.12" width="6.0" height="6.0" fill="#d9d9d9"/>
<path d="M125.80,138.30H124.65V144.70H125.80M133.00,138.30H134.15V144.70H133.00" class="bk"/>
<text x="129.40" y="144.00" class="ct" text-anchor="middle">72</text>
<rect x="125.00" y="147.00" width="6.0" height="6.0" fill="#4e79a7"/>
<rect x="125.00" y="156.52" width="6.0" height="6.0" fill="#4e79a7"/>
<rect x="125.00" y="166.04" width="6.0" height="6.0" fill="#4e79a7"/>
<rect x="125.00" y="175.56" width="6.0" height="6.0" fill="#4e79a7"/>
<rect x="125.00" y="185.08" width="6.0" height="6.0" fill="#d9d9d9"/>
<rect x="125.00" y="194.60" width="6.0" height="6.0" fill="#17becf"/>
<rect x="125.00" y="204.12" width="6.0" height="6.0" fill="#17becf"/>
<path d="M137.40,138.30H136.25V144.70H137.40M144.60,138.30H145.75V144.70H144.60" class="bk"/>
<text x="141.00" y="144.00" class="ct" text-anchor="middle">88</text>
<rect x="136.60" y="147.00" width="6.0" height="6.0" fill="#4e79a7"/>
<rect x="136.60" y="156.52" width="6.0" height="6.0" fill="#d9d9d9"/>
<rect x="136.60" y="166.04" width="6.0" height="6.0" fill="#d9d9d9"/>
<rect x="136.60" y="175.56" width="6.0" height="6.0" fill="#d9d9d9"/>
<rect x="136.60" y="185.08" width="6.0" height="6.0" fill="#2ca02c"/>
<rect x="136.60" y="194.60" width="6.0" height="6.0" fill="#17becf"/>
<rect x="136.60" y="204.12" width="6.0" height="6.0" fill="#17becf"/>
<path d="M149.00,138.30H147.85V144.70H149.00M156.20,138.30H157.35V144.70H156.20" class="bk"/>
<text x="152.60" y="144.00" class="ct" text-anchor="middle">96</text>
<rect x="148.20" y="147.00" width="6.0" height="6.0" fill="#4e79a7"/>
<rect x="148.20" y="156.52" width="6.0" height="6.0" fill="#4e79a7"/>
<rect x="148.20" y="166.04" width="6.0" height="6.0" fill="#4e79a7"/>
<rect x="148.20" y="175.56" width="6.0" height="6.0" fill="#d9d9d9"/>
<rect x="148.20" y="185.08" width="6.0" height="6.0" fill="#d9d9d9"/>
<rect x="148.20" y="194.60" width="6.0" height="6.0" fill="#d9d9d9"/>
<rect x="148.20" y="204.12" width="6.0" height="6.0" fill="#17becf"/>
<path d="M160.95,138.30H159.80V144.70H160.95M171.25,138.30H172.40V144.70H171.25" class="bk"/>
<text x="166.10" y="144.00" class="ct" text-anchor="middle">128</text>
<rect x="161.70" y="147.00" width="6.0" height="6.0" fill="#4e79a7"/>
<rect x="161.70" y="156.52" width="6.0" height="6.0" fill="#4e79a7"/>
<rect x="161.70" y="166.04" width="6.0" height="6.0" fill="#d9d9d9"/>
<rect x="161.70" y="175.56" width="6.0" height="6.0" fill="#d9d9d9"/>
<rect x="161.70" y="185.08" width="6.0" height="6.0" fill="#d9d9d9"/>
<rect x="161.70" y="194.60" width="6.0" height="6.0" fill="#17becf"/>
<rect x="161.70" y="204.12" width="6.0" height="6.0" fill="#d9d9d9"/>
<path d="M176.05,138.30H174.90V144.70H176.05M183.25,138.30H184.40V144.70H183.25" class="bk"/>
<text x="179.65" y="144.00" class="ct" text-anchor="middle">59</text>
<rect x="175.25" y="147.00" width="6.0" height="6.0" fill="#4e79a7"/>
<rect x="175.25" y="156.52" width="6.0" height="6.0" fill="#d9d9d9"/>
<rect x="175.25" y="166.04" width="6.0" height="6.0" fill="#d9d9d9"/>
<rect x="175.25" y="175.56" width="6.0" height="6.0" fill="#d9d9d9"/>
<rect x="175.25" y="185.08" width="6.0" height="6.0" fill="#2ca02c"/>
<rect x="175.25" y="194.60" width="6.0" height="6.0" fill="#17becf"/>
<rect x="175.25" y="204.12" width="6.0" height="6.0" fill="#17becf"/>
<path d="M188.00,138.30H186.85V144.70H188.00M198.30,138.30H199.45V144.70H198.30" class="bk"/>
<text x="193.15" y="144.00" class="ct" text-anchor="middle">116</text>
<rect x="188.75" y="147.00" width="6.0" height="6.0" fill="#4e79a7"/>
<rect x="188.75" y="156.52" width="6.0" height="6.0" fill="#4e79a7"/>
<rect x="188.75" y="166.04" width="6.0" height="6.0" fill="#d9d9d9"/>
<rect x="188.75" y="175.56" width="6.0" height="6.0" fill="#d9d9d9"/>
<rect x="188.75" y="185.08" width="6.0" height="6.0" fill="#d9d9d9"/>
<rect x="188.75" y="194.60" width="6.0" height="6.0" fill="#17becf"/>
<rect x="188.75" y="204.12" width="6.0" height="6.0" fill="#17becf"/>
<path d="M203.00,138.30H201.85V144.70H203.00M213.30,138.30H214.45V144.70H213.30" class="bk"/>
<text x="208.15" y="144.00" class="ct" text-anchor="middle">136</text>
<rect x="203.75" y="147.00" width="6.0" height="6.0" fill="#d9d9d9"/>
<rect x="203.75" y="156.52" width="6.0" height="6.0" fill="#4e79a7"/>
<rect x="203.75" y="166.04" width="6.0" height="6.0" fill="#d9d9d9"/>
<rect x="203.75" y="175.56" width="6.0" height="6.0" fill="#d9d9d9"/>
<rect x="203.75" y="185.08" width="6.0" height="6.0" fill="#d9d9d9"/>
<rect x="203.75" y="194.60" width="6.0" height="6.0" fill="#17becf"/>
<rect x="203.75" y="204.12" width="6.0" height="6.0" fill="#17becf"/>
<path d="M217.90,138.30H216.75V144.70H217.90M225.10,138.30H226.25V144.70H225.10" class="bk"/>
<text x="221.50" y="144.00" class="ct" text-anchor="middle">27</text>
<rect x="217.10" y="147.00" width="6.0" height="6.0" fill="#d9d9d9"/>
<rect x="217.10" y="156.52" width="6.0" height="6.0" fill="#4e79a7"/>
<rect x="217.10" y="166.04" width="6.0" height="6.0" fill="#4e79a7"/>
<rect x="217.10" y="175.56" width="6.0" height="6.0" fill="#d9d9d9"/>
<rect x="217.10" y="185.08" width="6.0" height="6.0" fill="#d9d9d9"/>
<rect x="217.10" y="194.60" width="6.0" height="6.0" fill="#d9d9d9"/>
<rect x="217.10" y="204.12" width="6.0" height="6.0" fill="#17becf"/>
<path d="M230.05,138.30H228.90V144.70H230.05M240.35,138.30H241.50V144.70H240.35" class="bk"/>
<text x="235.20" y="144.00" class="ct" text-anchor="middle">125</text>
<rect x="230.80" y="147.00" width="6.0" height="6.0" fill="#4e79a7"/>
<rect x="230.80" y="156.52" width="6.0" height="6.0" fill="#4e79a7"/>
<rect x="230.80" y="166.04" width="6.0" height="6.0" fill="#4e79a7"/>
<rect x="230.80" y="175.56" width="6.0" height="6.0" fill="#d9d9d9"/>
<rect x="230.80" y="185.08" width="6.0" height="6.0" fill="#d9d9d9"/>
<rect x="230.80" y="194.60" width="6.0" height="6.0" fill="#17becf"/>
<rect x="230.80" y="204.12" width="6.0" height="6.0" fill="#17becf"/>
<path d="M245.20,138.30H244.05V144.70H245.20M252.40,138.30H253.55V144.70H252.40" class="bk"/>
<text x="248.80" y="144.00" class="ct" text-anchor="middle">28</text>
<rect x="244.40" y="147.00" width="6.0" height="6.0" fill="#4e79a7"/>
<rect x="244.40" y="156.52" width="6.0" height="6.0" fill="#d9d9d9"/>
<rect x="244.40" y="166.04" width="6.0" height="6.0" fill="#d9d9d9"/>
<rect x="244.40" y="175.56" width="6.0" height="6.0" fill="#4e79a7"/>
<rect x="244.40" y="185.08" width="6.0" height="6.0" fill="#d9d9d9"/>
<rect x="244.40" y="194.60" width="6.0" height="6.0" fill="#17becf"/>
<rect x="244.40" y="204.12" width="6.0" height="6.0" fill="#17becf"/>
<path d="M257.35,138.30H256.20V144.70H257.35M267.65,138.30H268.80V144.70H267.65" class="bk"/>
<text x="262.50" y="144.00" class="ct" text-anchor="middle">130</text>
<rect x="258.10" y="147.00" width="6.0" height="6.0" fill="#4e79a7"/>
<rect x="258.10" y="156.52" width="6.0" height="6.0" fill="#4e79a7"/>
<rect x="258.10" y="166.04" width="6.0" height="6.0" fill="#4e79a7"/>
<rect x="258.10" y="175.56" width="6.0" height="6.0" fill="#4e79a7"/>
<rect x="258.10" y="185.08" width="6.0" height="6.0" fill="#d9d9d9"/>
<rect x="258.10" y="194.60" width="6.0" height="6.0" fill="#d9d9d9"/>
<rect x="258.10" y="204.12" width="6.0" height="6.0" fill="#17becf"/>
<path d="M272.00,138.30H270.85V144.70H272.00M282.30,138.30H283.45V144.70H282.30" class="bk"/>
<text x="277.15" y="144.00" class="ct" text-anchor="middle">148</text>
<rect x="272.75" y="147.00" width="6.0" height="6.0" fill="#4e79a7"/>
<rect x="272.75" y="156.52" width="6.0" height="6.0" fill="#d9d9d9"/>
<rect x="272.75" y="166.04" width="6.0" height="6.0" fill="#d9d9d9"/>
<rect x="272.75" y="175.56" width="6.0" height="6.0" fill="#d9d9d9"/>
<rect x="272.75" y="185.08" width="6.0" height="6.0" fill="#d9d9d9"/>
<rect x="272.75" y="194.60" width="6.0" height="6.0" fill="#17becf"/>
<rect x="272.75" y="204.12" width="6.0" height="6.0" fill="#d9d9d9"/>
<path d="M286.75,138.30H285.60V144.70H286.75M297.05,138.30H298.20V144.70H297.05" class="bk"/>
<text x="291.90" y="144.00" class="ct" text-anchor="middle">152</text>
<rect x="287.50" y="147.00" width="6.0" height="6.0" fill="#d9d9d9"/>
<rect x="287.50" y="156.52" width="6.0" height="6.0" fill="#4e79a7"/>
<rect x="287.50" y="166.04" width="6.0" height="6.0" fill="#d9d9d9"/>
<rect x="287.50" y="175.56" width="6.0" height="6.0" fill="#d9d9d9"/>
<rect x="287.50" y="185.08" width="6.0" height="6.0" fill="#2ca02c"/>
<rect x="287.50" y="194.60" width="6.0" height="6.0" fill="#17becf"/>
<rect x="287.50" y="204.12" width="6.0" height="6.0" fill="#17becf"/>
<path d="M302.05,138.30H300.90V144.70H302.05M309.25,138.30H310.40V144.70H309.25" class="bk"/>
<text x="305.65" y="144.00" class="ct" text-anchor="middle">66</text>
<rect x="301.25" y="147.00" width="6.0" height="6.0" fill="#4e79a7"/>
<rect x="301.25" y="156.52" width="6.0" height="6.0" fill="#d9d9d9"/>
<rect x="301.25" y="166.04" width="6.0" height="6.0" fill="#d9d9d9"/>
<rect x="301.25" y="175.56" width="6.0" height="6.0" fill="#d9d9d9"/>
<rect x="301.25" y="185.08" width="6.0" height="6.0" fill="#d9d9d9"/>
<rect x="301.25" y="194.60" width="6.0" height="6.0" fill="#d9d9d9"/>
<rect x="301.25" y="204.12" width="6.0" height="6.0" fill="#d9d9d9"/>
<path d="M313.70,138.30H312.55V144.70H313.70M324.00,138.30H325.15V144.70H324.00" class="bk"/>
<text x="318.85" y="144.00" class="ct" text-anchor="middle">142</text>
<rect x="314.45" y="147.00" width="6.0" height="6.0" fill="#d9d9d9"/>
<rect x="314.45" y="156.52" width="6.0" height="6.0" fill="#d9d9d9"/>
<rect x="314.45" y="166.04" width="6.0" height="6.0" fill="#4e79a7"/>
<rect x="314.45" y="175.56" width="6.0" height="6.0" fill="#4e79a7"/>
<rect x="314.45" y="185.08" width="6.0" height="6.0" fill="#d9d9d9"/>
<rect x="314.45" y="194.60" width="6.0" height="6.0" fill="#d9d9d9"/>
<rect x="314.45" y="204.12" width="6.0" height="6.0" fill="#17becf"/>
<path d="M333.40,138.30H332.25V144.70H333.40M340.60,138.30H341.75V144.70H340.60" class="bk"/>
<text x="337.00" y="144.00" class="ct" text-anchor="middle">51</text>
<rect x="332.60" y="147.00" width="6.0" height="6.0" fill="#d9d9d9"/>
<rect x="332.60" y="156.52" width="6.0" height="6.0" fill="#d9d9d9"/>
<rect x="332.60" y="166.04" width="6.0" height="6.0" fill="#4e79a7"/>
<rect x="332.60" y="175.56" width="6.0" height="6.0" fill="#d9d9d9"/>
<rect x="332.60" y="185.08" width="6.0" height="6.0" fill="#d9d9d9"/>
<rect x="332.60" y="194.60" width="6.0" height="6.0" fill="#17becf"/>
<rect x="332.60" y="204.12" width="6.0" height="6.0" fill="#d9d9d9"/>
<path d="M345.30,138.30H344.15V144.70H345.30M355.60,138.30H356.75V144.70H355.60" class="bk"/>
<text x="350.45" y="144.00" class="ct" text-anchor="middle">127</text>
<rect x="346.05" y="147.00" width="6.0" height="6.0" fill="#d9d9d9"/>
<rect x="346.05" y="156.52" width="6.0" height="6.0" fill="#d9d9d9"/>
<rect x="346.05" y="166.04" width="6.0" height="6.0" fill="#d9d9d9"/>
<rect x="346.05" y="175.56" width="6.0" height="6.0" fill="#4e79a7"/>
<rect x="346.05" y="185.08" width="6.0" height="6.0" fill="#d9d9d9"/>
<rect x="346.05" y="194.60" width="6.0" height="6.0" fill="#d9d9d9"/>
<rect x="346.05" y="204.12" width="6.0" height="6.0" fill="#17becf"/>
<path d="M360.25,138.30H359.10V144.70H360.25M367.45,138.30H368.60V144.70H367.45" class="bk"/>
<text x="363.85" y="144.00" class="ct" text-anchor="middle">40</text>
<rect x="359.45" y="147.00" width="6.0" height="6.0" fill="#4e79a7"/>
<rect x="359.45" y="156.52" width="6.0" height="6.0" fill="#d9d9d9"/>
<rect x="359.45" y="166.04" width="6.0" height="6.0" fill="#d9d9d9"/>
<rect x="359.45" y="175.56" width="6.0" height="6.0" fill="#d9d9d9"/>
<rect x="359.45" y="185.08" width="6.0" height="6.0" fill="#d9d9d9"/>
<rect x="359.45" y="194.60" width="6.0" height="6.0" fill="#17becf"/>
<rect x="359.45" y="204.12" width="6.0" height="6.0" fill="#d9d9d9"/>
<path d="M372.05,138.30H370.90V144.70H372.05M379.25,138.30H380.40V144.70H379.25" class="bk"/>
<text x="375.65" y="144.00" class="ct" text-anchor="middle">89</text>
<rect x="371.25" y="147.00" width="6.0" height="6.0" fill="#d9d9d9"/>
<rect x="371.25" y="156.52" width="6.0" height="6.0" fill="#4e79a7"/>
<rect x="371.25" y="166.04" width="6.0" height="6.0" fill="#d9d9d9"/>
<rect x="371.25" y="175.56" width="6.0" height="6.0" fill="#d9d9d9"/>
<rect x="371.25" y="185.08" width="6.0" height="6.0" fill="#d9d9d9"/>
<rect x="371.25" y="194.60" width="6.0" height="6.0" fill="#d9d9d9"/>
<rect x="371.25" y="204.12" width="6.0" height="6.0" fill="#d9d9d9"/>
<path d="M384.00,138.30H382.85V144.70H384.00M394.30,138.30H395.45V144.70H394.30" class="bk"/>
<text x="389.15" y="144.00" class="ct" text-anchor="middle">144</text>
<rect x="384.75" y="147.00" width="6.0" height="6.0" fill="#4e79a7"/>
<rect x="384.75" y="156.52" width="6.0" height="6.0" fill="#d9d9d9"/>
<rect x="384.75" y="166.04" width="6.0" height="6.0" fill="#d9d9d9"/>
<rect x="384.75" y="175.56" width="6.0" height="6.0" fill="#d9d9d9"/>
<rect x="384.75" y="185.08" width="6.0" height="6.0" fill="#d9d9d9"/>
<rect x="384.75" y="194.60" width="6.0" height="6.0" fill="#d9d9d9"/>
<rect x="384.75" y="204.12" width="6.0" height="6.0" fill="#d9d9d9"/>
<path d="M398.90,138.30H397.75V144.70H398.90M406.10,138.30H407.25V144.70H406.10" class="bk"/>
<text x="402.50" y="144.00" class="ct" text-anchor="middle">13</text>
<rect x="398.10" y="147.00" width="6.0" height="6.0" fill="#d9d9d9"/>
<rect x="398.10" y="156.52" width="6.0" height="6.0" fill="#4e79a7"/>
<rect x="398.10" y="166.04" width="6.0" height="6.0" fill="#d9d9d9"/>
<rect x="398.10" y="175.56" width="6.0" height="6.0" fill="#d9d9d9"/>
<rect x="398.10" y="185.08" width="6.0" height="6.0" fill="#d9d9d9"/>
<rect x="398.10" y="194.60" width="6.0" height="6.0" fill="#17becf"/>
<rect x="398.10" y="204.12" width="6.0" height="6.0" fill="#17becf"/>
<path d="M410.85,138.30H409.70V144.70H410.85M418.05,138.30H419.20V144.70H418.05" class="bk"/>
<text x="414.45" y="144.00" class="ct" text-anchor="middle">29</text>
<rect x="410.05" y="147.00" width="6.0" height="6.0" fill="#d9d9d9"/>
<rect x="410.05" y="156.52" width="6.0" height="6.0" fill="#4e79a7"/>
<rect x="410.05" y="166.04" width="6.0" height="6.0" fill="#4e79a7"/>
<rect x="410.05" y="175.56" width="6.0" height="6.0" fill="#d9d9d9"/>
<rect x="410.05" y="185.08" width="6.0" height="6.0" fill="#d9d9d9"/>
<rect x="410.05" y="194.60" width="6.0" height="6.0" fill="#17becf"/>
<rect x="410.05" y="204.12" width="6.0" height="6.0" fill="#d9d9d9"/>
<path d="M422.45,138.30H421.30V144.70H422.45M432.75,138.30H433.90V144.70H432.75" class="bk"/>
<text x="427.60" y="144.00" class="ct" text-anchor="middle">134</text>
<rect x="423.20" y="147.00" width="6.0" height="6.0" fill="#4e79a7"/>
<rect x="423.20" y="156.52" width="6.0" height="6.0" fill="#4e79a7"/>
<rect x="423.20" y="166.04" width="6.0" height="6.0" fill="#d9d9d9"/>
<rect x="423.20" y="175.56" width="6.0" height="6.0" fill="#d9d9d9"/>
<rect x="423.20" y="185.08" width="6.0" height="6.0" fill="#2ca02c"/>
<rect x="423.20" y="194.60" width="6.0" height="6.0" fill="#17becf"/>
<rect x="423.20" y="204.12" width="6.0" height="6.0" fill="#17becf"/>
<path d="M437.45,138.30H436.30V144.70H437.45M447.75,138.30H448.90V144.70H447.75" class="bk"/>
<text x="442.60" y="144.00" class="ct" text-anchor="middle">140</text>
<rect x="438.20" y="147.00" width="6.0" height="6.0" fill="#4e79a7"/>
<rect x="438.20" y="156.52" width="6.0" height="6.0" fill="#4e79a7"/>
<rect x="438.20" y="166.04" width="6.0" height="6.0" fill="#d9d9d9"/>
<rect x="438.20" y="175.56" width="6.0" height="6.0" fill="#d9d9d9"/>
<rect x="438.20" y="185.08" width="6.0" height="6.0" fill="#d9d9d9"/>
<rect x="438.20" y="194.60" width="6.0" height="6.0" fill="#17becf"/>
<rect x="438.20" y="204.12" width="6.0" height="6.0" fill="#17becf"/>
<path d="M457.35,138.30H456.20V144.70H457.35M467.65,138.30H468.80V144.70H467.65" class="bk"/>
<text x="462.50" y="144.00" class="ct" text-anchor="middle">109</text>
<rect x="458.10" y="147.00" width="6.0" height="6.0" fill="#d9d9d9"/>
<rect x="458.10" y="156.52" width="6.0" height="6.0" fill="#d9d9d9"/>
<rect x="458.10" y="166.04" width="6.0" height="6.0" fill="#4e79a7"/>
<rect x="458.10" y="175.56" width="6.0" height="6.0" fill="#d9d9d9"/>
<rect x="458.10" y="185.08" width="6.0" height="6.0" fill="#d9d9d9"/>
<rect x="458.10" y="194.60" width="6.0" height="6.0" fill="#d9d9d9"/>
<rect x="458.10" y="204.12" width="6.0" height="6.0" fill="#17becf"/>
<path d="M472.05,138.30H470.90V144.70H472.05M479.25,138.30H480.40V144.70H479.25" class="bk"/>
<text x="475.65" y="144.00" class="ct" text-anchor="middle">98</text>
<rect x="471.25" y="147.00" width="6.0" height="6.0" fill="#d9d9d9"/>
<rect x="471.25" y="156.52" width="6.0" height="6.0" fill="#4e79a7"/>
<rect x="471.25" y="166.04" width="6.0" height="6.0" fill="#d9d9d9"/>
<rect x="471.25" y="175.56" width="6.0" height="6.0" fill="#d9d9d9"/>
<rect x="471.25" y="185.08" width="6.0" height="6.0" fill="#d9d9d9"/>
<rect x="471.25" y="194.60" width="6.0" height="6.0" fill="#d9d9d9"/>
<rect x="471.25" y="204.12" width="6.0" height="6.0" fill="#17becf"/>
<path d="M483.90,138.30H482.75V144.70H483.90M491.10,138.30H492.25V144.70H491.10" class="bk"/>
<text x="487.50" y="144.00" class="ct" text-anchor="middle">15</text>
<rect x="483.10" y="147.00" width="6.0" height="6.0" fill="#d9d9d9"/>
<rect x="483.10" y="156.52" width="6.0" height="6.0" fill="#d9d9d9"/>
<rect x="483.10" y="166.04" width="6.0" height="6.0" fill="#4e79a7"/>
<rect x="483.10" y="175.56" width="6.0" height="6.0" fill="#d9d9d9"/>
<rect x="483.10" y="185.08" width="6.0" height="6.0" fill="#d9d9d9"/>
<rect x="483.10" y="194.60" width="6.0" height="6.0" fill="#d9d9d9"/>
<rect x="483.10" y="204.12" width="6.0" height="6.0" fill="#17becf"/>
<path d="M496.15,138.30H495.00V144.70H496.15M506.45,138.30H507.60V144.70H506.45" class="bk"/>
<text x="501.30" y="144.00" class="ct" text-anchor="middle">154</text>
<rect x="496.90" y="147.00" width="6.0" height="6.0" fill="#4e79a7"/>
<rect x="496.90" y="156.52" width="6.0" height="6.0" fill="#d9d9d9"/>
<rect x="496.90" y="166.04" width="6.0" height="6.0" fill="#d9d9d9"/>
<rect x="496.90" y="175.56" width="6.0" height="6.0" fill="#d9d9d9"/>
<rect x="496.90" y="185.08" width="6.0" height="6.0" fill="#2ca02c"/>
<rect x="496.90" y="194.60" width="6.0" height="6.0" fill="#17becf"/>
<rect x="496.90" y="204.12" width="6.0" height="6.0" fill="#17becf"/>
<path d="M515.80,138.30H514.65V144.70H515.80M523.00,138.30H524.15V144.70H523.00" class="bk"/>
<text x="519.40" y="144.00" class="ct" text-anchor="middle">43</text>
<rect x="515.00" y="147.00" width="6.0" height="6.0" fill="#4e79a7"/>
<rect x="515.00" y="156.52" width="6.0" height="6.0" fill="#d9d9d9"/>
<rect x="515.00" y="166.04" width="6.0" height="6.0" fill="#d9d9d9"/>
<rect x="515.00" y="175.56" width="6.0" height="6.0" fill="#d9d9d9"/>
<rect x="515.00" y="185.08" width="6.0" height="6.0" fill="#d9d9d9"/>
<rect x="515.00" y="194.60" width="6.0" height="6.0" fill="#17becf"/>
<rect x="515.00" y="204.12" width="6.0" height="6.0" fill="#17becf"/>
<path d="M527.70,138.30H526.55V144.70H527.70M534.90,138.30H536.05V144.70H534.90" class="bk"/>
<text x="531.30" y="144.00" class="ct" text-anchor="middle">46</text>
<rect x="526.90" y="147.00" width="6.0" height="6.0" fill="#d9d9d9"/>
<rect x="526.90" y="156.52" width="6.0" height="6.0" fill="#d9d9d9"/>
<rect x="526.90" y="166.04" width="6.0" height="6.0" fill="#4e79a7"/>
<rect x="526.90" y="175.56" width="6.0" height="6.0" fill="#d9d9d9"/>
<rect x="526.90" y="185.08" width="6.0" height="6.0" fill="#d9d9d9"/>
<rect x="526.90" y="194.60" width="6.0" height="6.0" fill="#17becf"/>
<rect x="526.90" y="204.12" width="6.0" height="6.0" fill="#d9d9d9"/>
<path d="M543.85,138.30H542.70V144.70H543.85M554.15,138.30H555.30V144.70H554.15" class="bk"/>
<text x="549.00" y="144.00" class="ct" text-anchor="middle">119</text>
<rect x="544.60" y="147.00" width="6.0" height="6.0" fill="#d9d9d9"/>
<rect x="544.60" y="156.52" width="6.0" height="6.0" fill="#4e79a7"/>
<rect x="544.60" y="166.04" width="6.0" height="6.0" fill="#d9d9d9"/>
<rect x="544.60" y="175.56" width="6.0" height="6.0" fill="#d9d9d9"/>
<rect x="544.60" y="185.08" width="6.0" height="6.0" fill="#2ca02c"/>
<rect x="544.60" y="194.60" width="6.0" height="6.0" fill="#17becf"/>
<rect x="544.60" y="204.12" width="6.0" height="6.0" fill="#17becf"/>
<path d="M559.35,138.30H558.20V144.70H559.35M563.25,138.30H564.40V144.70H563.25" class="bk"/>
<text x="561.30" y="144.00" class="ct" text-anchor="middle">1</text>
<rect x="556.90" y="147.00" width="6.0" height="6.0" fill="#4e79a7"/>
<rect x="556.90" y="156.52" width="6.0" height="6.0" fill="#4e79a7"/>
<rect x="556.90" y="166.04" width="6.0" height="6.0" fill="#4e79a7"/>
<rect x="556.90" y="175.56" width="6.0" height="6.0" fill="#d9d9d9"/>
<rect x="556.90" y="185.08" width="6.0" height="6.0" fill="#d9d9d9"/>
<rect x="556.90" y="194.60" width="6.0" height="6.0" fill="#17becf"/>
<rect x="556.90" y="204.12" width="6.0" height="6.0" fill="#17becf"/>
<path d="M570.55,138.30H569.40V144.70H570.55M577.75,138.30H578.90V144.70H577.75" class="bk"/>
<text x="574.15" y="144.00" class="ct" text-anchor="middle">17</text>
<rect x="569.75" y="147.00" width="6.0" height="6.0" fill="#d9d9d9"/>
<rect x="569.75" y="156.52" width="6.0" height="6.0" fill="#4e79a7"/>
<rect x="569.75" y="166.04" width="6.0" height="6.0" fill="#4e79a7"/>
<rect x="569.75" y="175.56" width="6.0" height="6.0" fill="#4e79a7"/>
<rect x="569.75" y="185.08" width="6.0" height="6.0" fill="#d9d9d9"/>
<rect x="569.75" y="194.60" width="6.0" height="6.0" fill="#17becf"/>
<rect x="569.75" y="204.12" width="6.0" height="6.0" fill="#17becf"/>
<text x="290.00" y="19" class="tt" style="font-size:7.3px" textLength="19.29" lengthAdjust="spacingAndGlyphs">TVCG</text>
<text x="309.70" y="19" class="tc" style="font-size:7.3px" textLength="11.40" lengthAdjust="spacingAndGlyphs">(40)</text>
<text x="179.65" y="134" class="tt" style="font-size:7.3px" textLength="13.70" lengthAdjust="spacingAndGlyphs">CHI</text>
<text x="194.69" y="134" class="tc" style="font-size:7.3px" textLength="11.88" lengthAdjust="spacingAndGlyphs">(22)</text>
<text x="372.98" y="134" class="tt" style="font-size:7.3px" textLength="24.94" lengthAdjust="spacingAndGlyphs">EuroVis</text>
<text x="399.44" y="134" class="tc" style="font-size:7.3px" textLength="8.11" lengthAdjust="spacingAndGlyphs">(9)</text>
<text x="470.53" y="134" class="tt" style="font-size:7.3px" textLength="17.67" lengthAdjust="spacingAndGlyphs">VAST</text>
<text x="489.08" y="134" class="tc" style="font-size:7.3px" textLength="8.49" lengthAdjust="spacingAndGlyphs">(4)</text>
<text x="512.85" y="134" class="tt" style="font-size:7.3px" textLength="23.58" lengthAdjust="spacingAndGlyphs">InfoVis</text>
<text x="547.43" y="134" class="tt" style="font-size:7.3px" textLength="10.95" lengthAdjust="spacingAndGlyphs">VIS</text>
<text x="564.64" y="134" class="tt" style="font-size:7.3px" textLength="20.43" lengthAdjust="spacingAndGlyphs">BELIV</text>
<line x1="54.4" y1="21.6" x2="585.6" y2="21.6" class="tl"/>
<line x1="55" y1="137.0" x2="325.8" y2="137.0" class="bl"/>
<line x1="330.8" y1="137.0" x2="449.4" y2="137.0" class="bl"/>
<line x1="454.4" y1="137.0" x2="508.1" y2="137.0" class="bl"/>
<line x1="512.75" y1="137.0" x2="536" y2="137.0" class="bl"/>
<line x1="541.25" y1="137.0" x2="564.4" y2="137.0" class="bl"/>
<line x1="569.3" y1="137.0" x2="585.2" y2="137.0" class="bl"/>
<line x1="54.75" y1="96.4" x2="54.75" y2="105.8" class="tk"/>
<line x1="130.5" y1="96.4" x2="130.5" y2="105.8" class="tk"/>
<line x1="250.5" y1="96.4" x2="250.5" y2="105.8" class="tk"/>
<line x1="432.4" y1="96.4" x2="432.4" y2="105.8" class="tk"/>
<line x1="585.4" y1="96.4" x2="585.4" y2="105.8" class="tk"/>
<line x1="55.6" y1="213.2" x2="55.6" y2="222.6" class="tk"/>
<line x1="110.6" y1="213.2" x2="110.6" y2="222.6" class="tk"/>
<line x1="215.0" y1="213.2" x2="215.0" y2="222.6" class="tk"/>
<line x1="325.9" y1="213.2" x2="325.9" y2="222.6" class="tk"/>
<line x1="396.3" y1="213.2" x2="396.3" y2="222.6" class="tk"/>
<line x1="449.4" y1="213.2" x2="449.4" y2="222.6" class="tk"/>
<text x="74.45" y="103" class="yl" style="font-size:6.95px" textLength="35.81" lengthAdjust="spacingAndGlyphs">2006 – 2009</text>
<text x="172.60" y="103" class="yl" style="font-size:6.95px" textLength="35.83" lengthAdjust="spacingAndGlyphs">2010 – 2014</text>
<text x="323.60" y="103" class="yl" style="font-size:6.95px" textLength="35.96" lengthAdjust="spacingAndGlyphs">2015 – 2019</text>
<text x="475.70" y="103" class="yl" style="font-size:6.95px" textLength="65.92" lengthAdjust="spacingAndGlyphs">2020 – Present (2022)</text>
<text x="65.02" y="220" class="yl" style="font-size:7.15px" textLength="36.11" lengthAdjust="spacingAndGlyphs">1997 – 2014</text>
<text x="144.69" y="220" class="yl" style="font-size:7.15px" textLength="36.83" lengthAdjust="spacingAndGlyphs">2015 – 2019</text>
<text x="236.59" y="220" class="yl" style="font-size:7.15px" textLength="67.74" lengthAdjust="spacingAndGlyphs">2020 – Present (2022)</text>
<text x="345.01" y="220" class="yl" style="font-size:7.15px" textLength="36.55" lengthAdjust="spacingAndGlyphs">1999 – 2009</text>
<text x="404.44" y="220" class="yl" style="font-size:7.15px" textLength="37.03" lengthAdjust="spacingAndGlyphs">2010 – 2016</text>
</svg>
</body></html>
